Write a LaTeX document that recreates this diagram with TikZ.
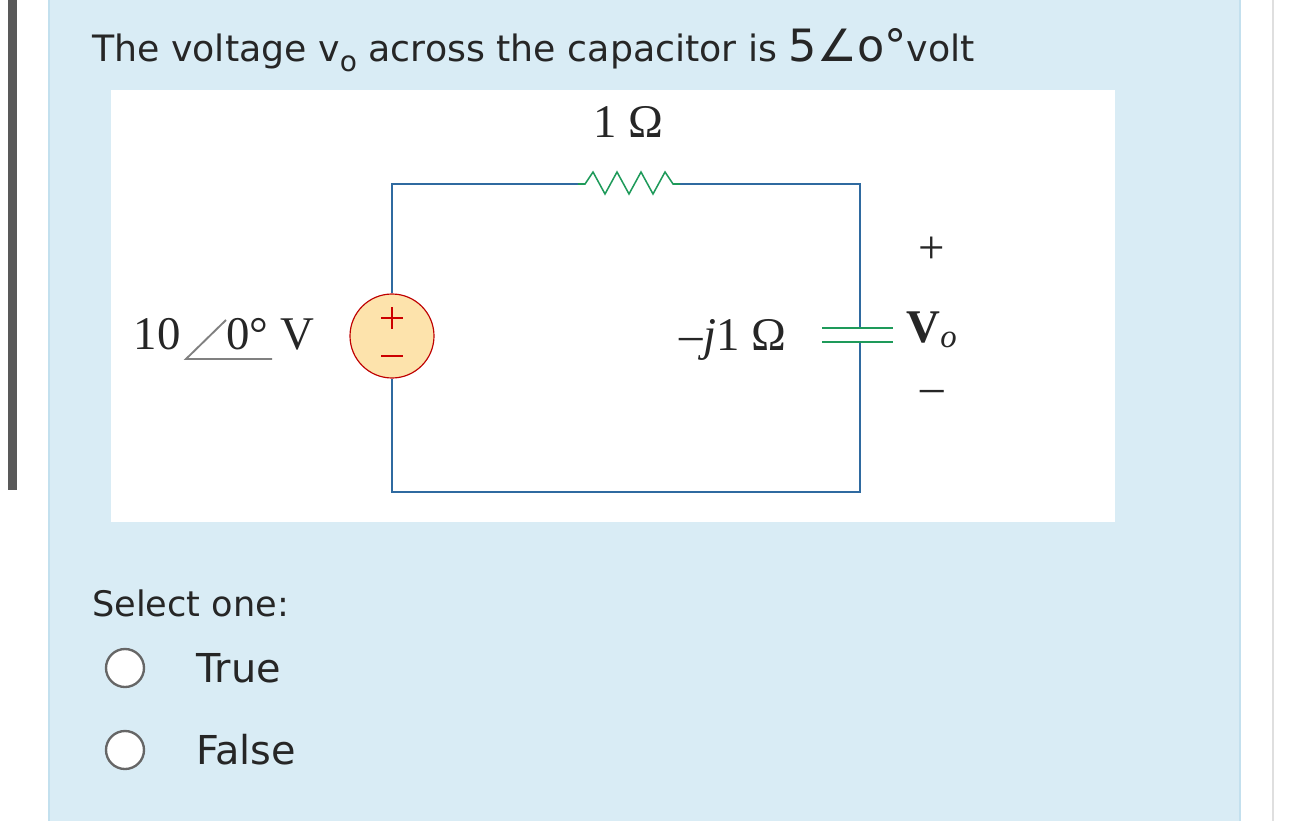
\documentclass[tikz,border=0pt]{standalone}
\usepackage{fontspec}
\setmainfont{DejaVu Sans}
\newfontfamily\ser{Liberation Serif}
\begin{document}
\begin{tikzpicture}[x=0.03cm,y=-0.03cm,
  wire/.style={draw=wireblue,line width=1.6pt},
  lab/.style={font=\ser\fontsize{40}{40}\selectfont,text=black!85},
  ui/.style={font=\fontsize{30}{30}\selectfont,text=black!85,anchor=west}]
\definecolor{wireblue}{HTML}{2F6AA0}
\definecolor{panel}{HTML}{D9ECF5}
\definecolor{panelb}{HTML}{C3E0EE}
\definecolor{resg}{HTML}{1E9A5A}
\useasboundingbox (0,0) rectangle (1290,821);
\fill[white] (0,0) rectangle (1290,821);
\fill[gray!70!black] (8,0) rectangle (17,490);
\draw[gray!25,line width=1pt] (1273,0) -- (1273,821);
\draw[panelb,fill=panel,line width=1.5pt,rounded corners=12] (49,-20) rectangle (1240,835);
\node[ui,font=\fontsize{31}{31}\selectfont] (title) at (88,50) {The voltage v\raisebox{-0.5ex}{\fontsize{24}{24}\selectfont o} across the capacitor is {\fontsize{38}{38}\selectfont 5∠o\textdegree}volt};
\fill[white] (111,90) rectangle (1115,522);
% circuit
\coordinate (tl) at (392,184); \coordinate (tr) at (860,184);
\coordinate (bl) at (392,492); \coordinate (br) at (860,492);
\coordinate (r1) at (578,184); \coordinate (r2) at (680,184);
\coordinate (c1) at (860,328); \coordinate (c2) at (860,342);
\node[circle,draw=red!75!black,fill=yellow!35!orange!30,line width=1pt,minimum size=84*0.03cm,inner sep=0] (src) at (392,336) {};
\draw[red!80!black,line width=1.4pt] (381,318)--(403,318) (392,307)--(392,329) (381,356)--(403,356);
\draw[wire] (src.north) -- (tl) -- (r1);
\draw[wire] (r2) -- (tr) -- (c1);
\draw[wire] (c2) -- (br) -- (bl) -- (src.south);
\draw[resg,line width=1.3pt] (r1) -- (585,184) -- (593,172) -- (605,194) -- (617,172) -- (629,194) -- (641,172) -- (653,194) -- (665,172) -- (673,184) -- (r2);
\draw[resg,line width=1.6pt] (822,328) -- (893,328) (822,342) -- (893,342);
\node[lab] (rl) at (628,122) {1 Ω};
\node[lab,anchor=east] (sl1) at (185,334) {10};
\node[lab,anchor=west] (sl2) at (222,334) {0\textdegree\ V};
\draw[gray,line width=1.6pt] (226,320) -- (186,359) -- (272,359);
\node[lab] (cl) at (733,340) {–\textit{j}1 Ω};
\node[lab] (p) at (932,250) {+};
\node[lab] (vo) at (932,330) {\textbf{V}\textsubscript{\textit{o}}};
\node[lab] (m) at (932,396) {–};
\node[ui] (sel) at (88,603) {Select one:};
\node[circle,draw=gray!80!black,fill=white,line width=2pt,minimum size=38*0.03cm] (o1) at (125,668) {};
\node[circle,draw=gray!80!black,fill=white,line width=2pt,minimum size=38*0.03cm] (o2) at (125,750) {};
\node[ui,font=\fontsize{34}{34}\selectfont] (t) at (192,668) {True};
\node[ui,font=\fontsize{34}{34}\selectfont] (f) at (192,750) {False};
\end{tikzpicture}
\end{document}
